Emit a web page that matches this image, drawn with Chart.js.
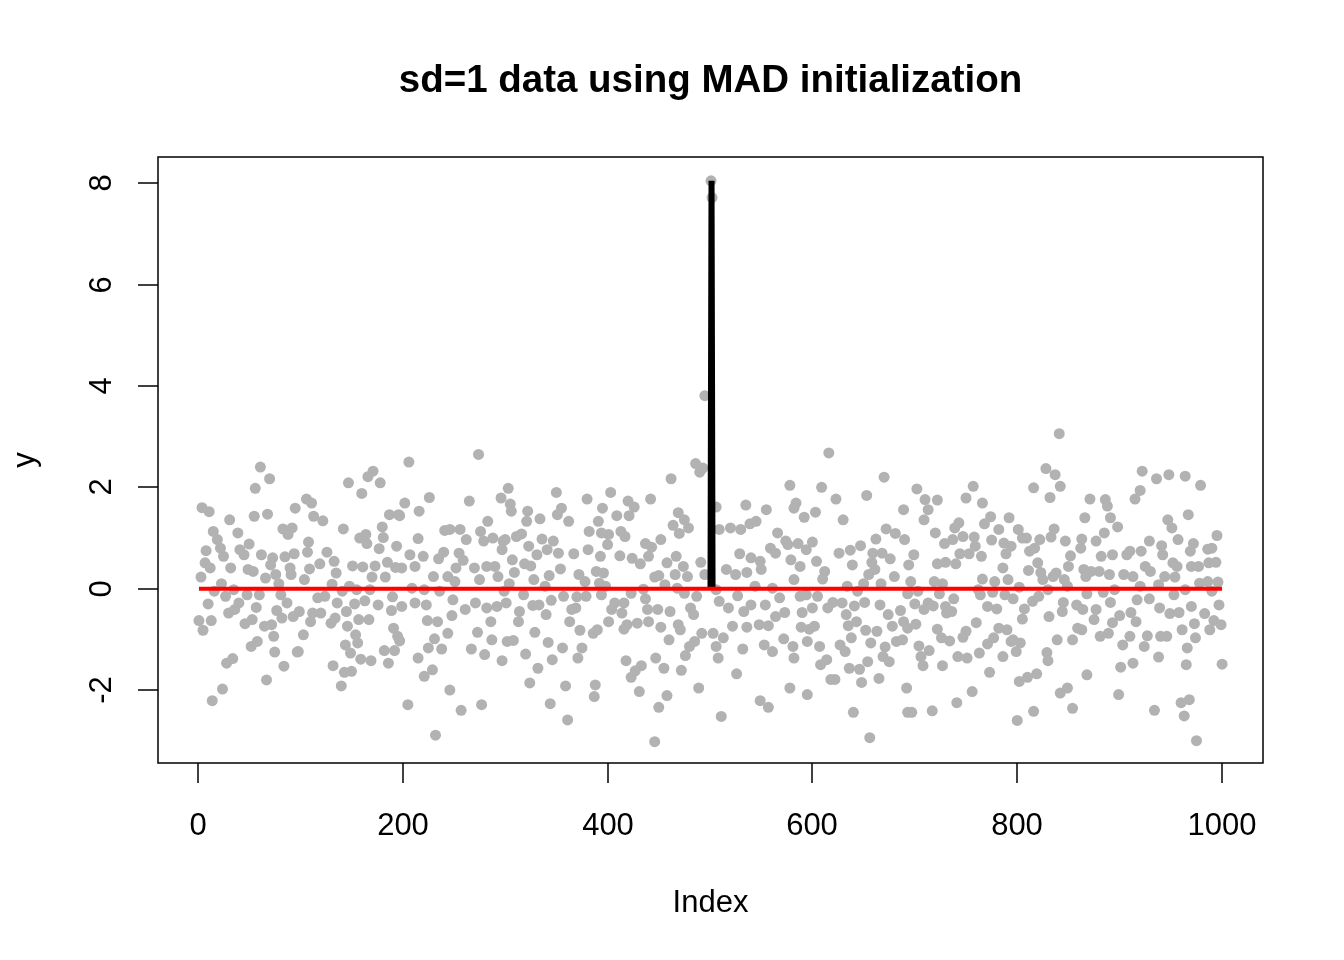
<!DOCTYPE html>
<html>
<head>
<meta charset="utf-8">
<script src="https://cdn.jsdelivr.net/npm/chart.js@4"></script>
<style>
  body { margin: 0; background: #fff; }
  canvas { display: block; }
</style>
</head>
<body>
<canvas id="chart" width="1344" height="960"></canvas>
<script>
const block0 = [[61,2.40],[70,2.17],[56,1.98],[4,1.60],[11,1.52],[31,1.36],[55,1.43],[68,1.47],[95,1.59],[15,1.13],[39,1.10],[83,1.18],[92,1.20],[88,1.07],[19,0.97],[22,0.80],[8,0.75],[50,0.88],[41,0.77],[45,0.67],[25,0.64],[62,0.67],[73,0.61],[85,0.63],[94,0.69],[7,0.51],[12,0.41],[32,0.41],[49,0.38],[54,0.34],[71,0.47],[90,0.41],[3,0.23],[66,0.21],[76,0.28],[91,0.28],[79,0.10],[23,0.10],[16,-0.05],[35,-0.02],[48,-0.12],[27,-0.15],[60,-0.12],[40,-0.28],[81,-0.12],[87,-0.28],[10,-0.30],[57,-0.37],[36,-0.41],[30,-0.48],[77,-0.43],[82,-0.58],[93,-0.55],[1,-0.63],[13,-0.63],[5,-0.82],[46,-0.69],[53,-0.61],[65,-0.74],[72,-0.71],[74,-0.94],[58,-1.04],[52,-1.14],[34,-1.38],[28,-1.47],[75,-1.25],[97,-1.25],[84,-1.53],[67,-1.80],[24,-1.98],[14,-2.21]];
const block1 = [[171,2.32],[166,2.21],[178,2.09],[147,2.09],[160,1.88],[106,1.77],[111,1.69],[113,1.43],[122,1.34],[142,1.18],[187,1.46],[196,1.46],[180,1.22],[158,1.00],[164,1.07],[165,0.89],[181,1.01],[177,0.79],[194,0.84],[108,0.92],[107,0.72],[126,0.72],[133,0.54],[151,0.45],[161,0.43],[173,0.45],[185,0.52],[193,0.42],[109,0.39],[119,0.49],[135,0.31],[170,0.23],[183,0.23],[104,0.18],[131,0.09],[148,0.05],[155,-0.02],[141,-0.05],[168,-0.02],[190,-0.16],[117,-0.18],[124,-0.15],[136,-0.28],[153,-0.30],[163,-0.24],[176,-0.32],[99,-0.45],[112,-0.48],[120,-0.48],[110,-0.65],[134,-0.58],[145,-0.45],[130,-0.68],[146,-0.74],[157,-0.61],[167,-0.61],[189,-0.43],[191,-0.78],[195,-0.94],[103,-0.91],[154,-0.91],[144,-1.11],[156,-1.07],[149,-1.27],[98,-1.24],[182,-1.22],[192,-1.22],[159,-1.39],[169,-1.42],[186,-1.47],[132,-1.52],[143,-1.65],[150,-1.63],[140,-1.92]];
const block2 = [[274,2.65],[206,2.50],[226,1.80],[265,1.73],[296,1.79],[202,1.69],[197,1.44],[216,1.53],[283,1.33],[276,1.13],[241,1.15],[246,1.17],[256,1.17],[262,0.97],[279,0.94],[288,1.00],[297,0.77],[215,0.99],[207,0.67],[220,0.64],[235,0.59],[240,0.72],[255,0.70],[259,0.56],[199,0.41],[212,0.44],[230,0.24],[252,0.41],[270,0.41],[282,0.44],[290,0.44],[244,0.24],[251,0.14],[275,0.18],[293,0.24],[209,0.01],[221,-0.02],[236,-0.05],[212,-0.28],[199,-0.35],[223,-0.32],[249,-0.22],[261,-0.41],[271,-0.28],[282,-0.38],[292,-0.35],[248,-0.53],[224,-0.63],[234,-0.65],[286,-0.65],[244,-0.88],[273,-0.86],[231,-0.99],[287,-1.01],[197,-1.03],[225,-1.17],[238,-1.19],[267,-1.19],[280,-1.30],[215,-1.37],[297,-1.42],[229,-1.60],[221,-1.73],[246,-2.00],[205,-2.29],[257,-2.40],[277,-2.29],[232,-2.89]];
const block3 = [[303,1.98],[350,1.90],[380,1.77],[305,1.67],[306,1.53],[322,1.53],[334,1.38],[355,1.59],[351,1.46],[362,1.33],[382,1.13],[321,1.33],[298,0.94],[300,0.97],[311,1.03],[316,1.08],[323,0.84],[336,0.98],[347,0.94],[331,0.67],[341,0.77],[352,0.70],[367,0.69],[381,0.77],[393,0.64],[307,0.57],[319,0.49],[325,0.45],[354,0.39],[343,0.26],[372,0.28],[389,0.34],[309,0.32],[328,0.18],[304,0.10],[339,0.05],[378,0.14],[392,0.11],[299,-0.05],[318,-0.12],[357,-0.15],[370,-0.16],[379,-0.15],[394,-0.12],[301,-0.28],[327,-0.33],[333,-0.32],[345,-0.23],[314,-0.45],[340,-0.51],[365,-0.41],[369,-0.38],[363,-0.65],[313,-0.65],[373,-0.82],[386,-0.88],[390,-0.81],[329,-0.86],[302,-1.04],[308,-1.02],[342,-1.06],[356,-1.17],[375,-1.17],[320,-1.29],[346,-1.40],[371,-1.37],[332,-1.57],[324,-1.86],[359,-1.92],[388,-1.90],[387,-2.13],[344,-2.27],[361,-2.59],[391,1.33],[395,1.59]];
const block4 = [[486,2.47],[490,2.30],[462,2.17],[403,1.90],[442,1.77],[420,1.73],[426,1.61],[409,1.44],[421,1.44],[469,1.50],[475,1.36],[464,1.25],[479,1.20],[470,1.09],[394,1.10],[401,1.07],[413,1.13],[417,1.03],[400,0.87],[437,0.89],[443,0.82],[452,0.97],[412,0.65],[424,0.60],[432,0.49],[440,0.64],[458,0.51],[467,0.64],[474,0.44],[491,0.52],[396,0.31],[446,0.23],[450,0.26],[466,0.28],[478,0.24],[495,0.28],[398,0.05],[423,-0.09],[435,-0.01],[456,0.08],[468,0.01],[475,-0.09],[487,-0.15],[407,-0.28],[416,-0.28],[437,-0.20],[404,-0.41],[414,-0.48],[439,-0.41],[449,-0.41],[461,-0.45],[481,-0.38],[484,-0.51],[401,-0.65],[419,-0.71],[429,-0.68],[440,-0.65],[452,-0.76],[469,-0.71],[416,-0.80],[471,-0.81],[460,-1.01],[492,-0.88],[485,-1.04],[480,-1.14],[476,-1.32],[418,-1.42],[447,-1.37],[455,-1.57],[433,-1.52],[427,-1.62],[423,-1.75],[472,-1.61],[431,-2.03],[458,-2.11],[489,-1.96],[450,-2.34],[446,-3.02]];
const block5 = [[495,3.81],[501,8.05],[502,7.72],[493,2.38],[578,2.04],[584,1.69],[582,1.59],[592,1.41],[506,1.61],[535,1.65],[555,1.56],[509,1.17],[520,1.20],[530,1.17],[539,1.28],[545,1.33],[566,1.10],[574,0.94],[576,0.87],[586,0.89],[594,0.77],[559,0.80],[564,0.70],[529,0.69],[540,0.61],[549,0.54],[579,0.57],[588,0.44],[516,0.38],[525,0.28],[536,0.32],[550,0.38],[582,0.18],[544,0.05],[561,0.01],[506,-0.02],[527,-0.14],[509,-0.25],[568,-0.18],[588,-0.15],[518,-0.38],[540,-0.32],[554,-0.32],[533,-0.45],[564,-0.55],[573,-0.47],[590,-0.47],[522,-0.74],[536,-0.76],[548,-0.71],[557,-0.73],[503,-0.88],[513,-0.97],[589,-0.76],[506,-1.14],[553,-1.11],[561,-1.24],[572,-0.99],[581,-1.14],[582,-1.37],[532,-1.19],[508,-1.37],[526,-1.68],[578,-1.96],[595,-2.09],[549,-2.21],[557,-2.34],[511,-2.52]];
const block6 = [[616,2.68],[670,2.20],[609,2.00],[623,1.77],[653,1.84],[689,1.56],[603,1.51],[630,1.36],[672,1.18],[681,1.09],[690,0.97],[662,0.98],[600,0.92],[647,0.85],[626,0.70],[637,0.76],[659,0.70],[668,0.70],[676,0.59],[604,0.54],[639,0.47],[658,0.52],[694,0.47],[612,0.34],[610,0.19],[655,0.28],[661,0.38],[680,0.24],[634,0.05],[650,0.10],[667,0.10],[594,-0.12],[605,-0.15],[620,-0.27],[629,-0.28],[644,-0.05],[600,-0.38],[615,-0.38],[641,-0.34],[651,-0.27],[666,-0.32],[686,-0.43],[633,-0.51],[674,-0.51],[689,-0.65],[635,-0.73],[643,-0.65],[597,-0.80],[602,-0.74],[652,-0.82],[663,-0.84],[678,-0.74],[595,-1.04],[638,-0.97],[607,-1.14],[627,-1.11],[632,-1.24],[657,-1.07],[671,-1.15],[682,-1.04],[688,-1.01],[669,-1.34],[675,-1.44],[608,-1.50],[614,-1.40],[636,-1.57],[646,-1.59],[654,-1.44],[618,-1.79],[622,-1.79],[648,-1.85],[665,-1.77],[692,-1.96],[640,-2.44],[693,-2.44],[656,-2.94]];
const block7 = [[757,2.02],[702,1.97],[750,1.79],[766,1.69],[710,1.76],[722,1.75],[713,1.56],[792,1.40],[774,1.42],[709,1.36],[768,1.28],[782,1.17],[743,1.30],[739,1.20],[720,1.10],[747,1.03],[758,1.02],[737,0.97],[729,0.89],[775,0.96],[787,0.90],[699,0.67],[759,0.84],[744,0.69],[753,0.69],[765,0.64],[789,0.69],[722,0.49],[730,0.52],[740,0.49],[786,0.41],[696,0.14],[719,0.14],[727,0.10],[766,0.19],[778,0.14],[791,0.18],[693,-0.10],[703,-0.05],[724,-0.10],[762,-0.02],[764,-0.12],[776,-0.07],[788,-0.12],[738,-0.20],[700,-0.30],[713,-0.28],[718,-0.34],[730,-0.35],[709,-0.41],[736,-0.45],[771,-0.35],[780,-0.40],[731,-0.48],[701,-0.70],[693,-0.78],[722,-0.80],[760,-0.67],[750,-0.84],[782,-0.78],[790,-0.81],[726,-0.97],[734,-1.03],[747,-0.96],[704,-1.13],[714,-1.22],[771,-1.09],[777,-0.97],[794,-1.04],[742,-1.34],[751,-1.37],[763,-1.27],[786,-1.34],[706,-1.34],[708,-1.52],[727,-1.52],[773,-1.65],[756,-2.03],[741,-2.25],[697,-2.44],[717,-2.41]];
const block8 = [[841,3.06],[828,2.37],[837,2.25],[816,1.99],[832,1.80],[842,2.02],[871,1.77],[886,1.76],[888,1.63],[866,1.40],[891,1.40],[801,1.17],[836,1.18],[805,1.00],[809,1.00],[822,0.97],[833,1.02],[847,0.94],[863,0.98],[885,1.10],[877,0.94],[794,0.84],[812,0.74],[817,0.80],[862,0.80],[852,0.65],[882,0.64],[893,0.67],[820,0.51],[850,0.44],[811,0.36],[823,0.32],[838,0.31],[865,0.38],[872,0.34],[880,0.34],[890,0.28],[825,0.18],[835,0.24],[846,0.18],[867,0.24],[802,0.03],[830,-0.02],[849,0.05],[796,-0.20],[815,-0.25],[821,-0.15],[868,-0.10],[884,-0.07],[845,-0.27],[858,-0.32],[891,-0.27],[807,-0.40],[844,-0.45],[864,-0.41],[877,-0.41],[805,-0.60],[831,-0.55],[875,-0.61],[893,-0.67],[859,-0.78],[863,-0.81],[881,-0.94],[889,-0.88],[796,-1.01],[803,-1.07],[839,-1.01],[854,-1.01],[799,-1.24],[829,-1.26],[830,-1.42],[802,-1.83],[810,-1.75],[819,-1.68],[868,-1.70],[849,-1.96],[842,-2.06],[854,-2.36],[816,-2.42],[800,-2.60]];
const block9 = [[922,2.32],[936,2.17],[948,2.25],[964,2.22],[979,2.04],[920,1.94],[915,1.77],[898,1.22],[967,1.46],[947,1.36],[951,1.20],[995,1.05],[957,0.97],[929,0.94],[941,0.85],[972,0.89],[969,0.74],[986,0.78],[990,0.80],[907,0.67],[910,0.74],[921,0.74],[942,0.67],[952,0.51],[956,0.44],[970,0.44],[977,0.44],[987,0.51],[994,0.52],[925,0.44],[930,0.34],[904,0.28],[913,0.24],[944,0.24],[954,0.23],[978,0.11],[986,0.14],[996,0.13],[938,0.08],[895,-0.02],[920,0.05],[964,-0.02],[990,-0.05],[917,-0.22],[929,-0.20],[953,-0.12],[939,-0.38],[970,-0.35],[997,-0.32],[911,-0.47],[949,-0.49],[958,-0.47],[983,-0.49],[900,-0.53],[916,-0.65],[973,-0.69],[992,-0.63],[999,-0.71],[988,-0.81],[961,-0.81],[910,-0.94],[927,-0.93],[940,-0.94],[946,-0.94],[974,-0.97],[903,-1.11],[924,-1.14],[966,-1.17],[938,-1.35],[901,-1.55],[913,-1.47],[965,-1.50],[1000,-1.49],[899,-2.09],[934,-2.40],[960,-2.25],[968,-2.19],[963,-2.51],[975,-3.00]];

// fitted means: the spike around 501-502, and the flat baseline
const fitIndex = [500, 501, 502, 503];
const fitValue = [0, 8.0, 8.0, 0];
const baseIndex = [1, 1000];
const baseValue = [0, 0];

const xTicks = [0, 200, 400, 600, 800, 1000];
const yTicks = [-2, 0, 2, 4, 6, 8];

const FONT = '"Liberation Sans", Arial, Helvetica, sans-serif';

const observations = [block0, block1, block2, block3, block4, block5, block6, block7, block8, block9]
    .flat()
    .map(p => ({ x: p[0], y: p[1] }));

// R style box, ticks and labels
const rAxes = {
    id: 'rAxes',
    afterDraw(chart) {
        const ctx = chart.ctx;
        const area = chart.chartArea;
        const xs = chart.scales.x;
        const ys = chart.scales.y;
        ctx.save();
        ctx.strokeStyle = '#000';
        ctx.fillStyle = '#000';
        ctx.lineWidth = 1.5;
        ctx.strokeRect(area.left, area.top, area.right - area.left, area.bottom - area.top);

        ctx.font = '31px ' + FONT;
        ctx.textAlign = 'center';
        ctx.textBaseline = 'alphabetic';
        xTicks.forEach(v => {
            const px = Math.round(xs.getPixelForValue(v));
            ctx.beginPath();
            ctx.moveTo(px, area.bottom);
            ctx.lineTo(px, area.bottom + 20);
            ctx.stroke();
            ctx.fillText(String(v), px, 835);
        });
        yTicks.forEach(v => {
            const py = Math.round(ys.getPixelForValue(v));
            ctx.beginPath();
            ctx.moveTo(area.left, py);
            ctx.lineTo(area.left - 20, py);
            ctx.stroke();
            ctx.save();
            ctx.translate(111, py);
            ctx.rotate(-Math.PI / 2);
            ctx.fillText(String(v), 0, 0);
            ctx.restore();
        });

        ctx.fillText('Index', (area.left + area.right) / 2, 912);
        ctx.save();
        ctx.translate(34, (area.top + area.bottom) / 2);
        ctx.rotate(-Math.PI / 2);
        ctx.fillText('y', 0, 0);
        ctx.restore();

        ctx.font = 'bold 38.5px ' + FONT;
        ctx.fillText('sd=1 data using MAD initialization', (area.left + area.right) / 2, 92);
        ctx.restore();
    }
};

new Chart(document.getElementById('chart'), {
    type: 'scatter',
    data: {
        datasets: [
            {
                label: 'y',
                data: observations,
                pointRadius: 5.5,
                pointBackgroundColor: '#B2B2B2',
                pointBorderWidth: 0,
                showLine: false,
                order: 3
            },
            {
                label: 'fit',
                data: fitIndex.map((x, i) => ({ x: x, y: fitValue[i] })),
                showLine: true,
                borderColor: '#000',
                borderWidth: 5,
                pointRadius: 0,
                order: 2
            },
            {
                label: 'baseline',
                data: baseIndex.map((x, i) => ({ x: x, y: baseValue[i] })),
                showLine: true,
                borderColor: '#FF0000',
                borderWidth: 4,
                pointRadius: 0,
                order: 1
            }
        ]
    },
    options: {
        responsive: false,
        devicePixelRatio: 1,
        animation: false,
        layout: { padding: { left: 158, top: 157, right: 81, bottom: 197 } },
        plugins: {
            legend: { display: false },
            title: { display: false },
            tooltip: { enabled: false }
        },
        scales: {
            x: { type: 'linear', display: false, min: -38.96, max: 1039.96 },
            y: { type: 'linear', display: false, min: -3.44, max: 8.52 }
        }
    },
    plugins: [rAxes]
});
</script>
</body>
</html>
